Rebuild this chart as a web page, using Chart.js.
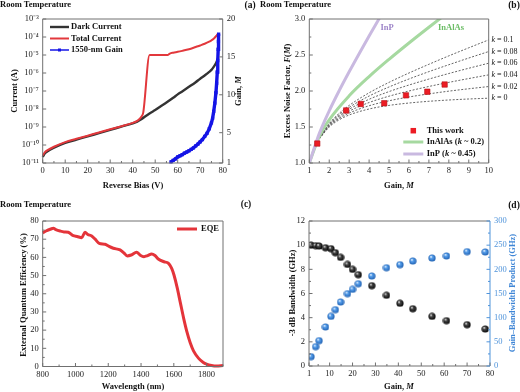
<!DOCTYPE html>
<html lang="en">
<head>
<meta charset="UTF-8">
<title>APD - Room Temperature</title>
<script src="https://cdn.jsdelivr.net/npm/chart.js"></script>
<style>
  body { margin: 0; background: #fff; width: 520px; height: 392px; overflow: hidden; }
  .painel { position: absolute; }
</style>
</head>
<body>
<canvas id="graficoA" class="painel" width="260" height="196" style="left:0;top:0"></canvas>
<canvas id="graficoB" class="painel" width="260" height="196" style="left:260px;top:0"></canvas>
<canvas id="graficoC" class="painel" width="260" height="196" style="left:0;top:196px"></canvas>
<canvas id="graficoD" class="painel" width="260" height="196" style="left:260px;top:196px"></canvas>

<script>
// (a) corrente x tensao
const tensaoEscuro = [0, 1, 2, 5, 10, 15, 20, 25, 30, 35, 40, 42, 44, 46, 48, 50, 52, 55, 58, 60, 62, 65, 68, 70, 72, 74, 75, 76, 77, 78];
const correnteEscuro = [2.2e-11, 3.5e-11, 4.3e-11, 7e-11, 1.3e-10, 2e-10, 3e-10, 4.6e-10, 7e-10, 1.05e-9, 1.6e-9, 2e-9, 2.8e-9, 4.2e-9, 6.2e-9, 8.7e-9, 1.3e-8, 2.3e-8, 4.2e-8, 6.5e-8, 9.5e-8, 1.7e-7, 3.1e-7, 4.8e-7, 7.3e-7, 1.15e-6, 1.5e-6, 2.2e-6, 3.5e-6, 7e-6];
const tensaoTotal = [0, 1, 2, 5, 10, 15, 20, 25, 30, 35, 40, 42, 43, 44, 44.7, 47.5, 50, 55.5, 56.5, 58, 60, 62, 65, 68, 70, 72, 74, 75, 76, 77, 78];
const correnteTotal = [2.6e-11, 4e-11, 5e-11, 8e-11, 1.45e-10, 2.2e-10, 3.3e-10, 5e-10, 7.5e-10, 1.1e-9, 1.7e-9, 2.2e-9, 2.8e-9, 4e-9, 6.5e-9, 1e-5, 1e-5, 1e-5, 1.2e-5, 1.35e-5, 1.5e-5, 1.7e-5, 2.1e-5, 2.8e-5, 3.4e-5, 4.2e-5, 5.5e-5, 6.5e-5, 8e-5, 1.1e-4, 1.6e-4];
const tensaoGanho = [57, 58, 59, 60, 61, 62, 63, 64, 65, 66, 67, 68, 69, 70, 71, 72, 73, 74, 75, 75.5, 76, 76.5, 77, 77.3, 77.6, 77.8, 78, 78.1, 78.2];
const ganho1550 = [1.15, 1.35, 1.55, 1.8, 1.95, 2.1, 2.3, 2.45, 2.6, 2.8, 3.0, 3.25, 3.5, 3.8, 4.1, 4.5, 4.9, 5.5, 6.3, 6.9, 7.8, 8.9, 10.3, 11.5, 13, 14.5, 16, 17, 18];
const ticksBias = [0, 10, 20, 30, 40, 50, 60, 70, 80];
const expoentesCorrente = [-11, -10, -9, -8, -7, -6, -5, -4, -3];
const ticksGanhoA = [1, 5, 10, 15, 20];

// (b) fator de ruido em excesso
const ganhoExp = [1.4, 2.85, 3.58, 4.76, 5.85, 6.92, 7.79];
const ruidoExp = [1.27, 1.73, 1.82, 1.83, 1.94, 1.99, 2.09];
const ganhoInAlAs = [1, 1.5, 2, 3, 4, 5, 6, 7, 8];
const ruidoInAlAs = [1.0, 1.367, 1.6, 1.933, 2.2, 2.44, 2.667, 2.886, 3.1];
const ganhoInP = [1, 1.5, 2, 2.5, 3, 3.5, 4, 4.5, 5];
const ruidoInP = [1.0, 1.408, 1.725, 2.005, 2.267, 2.518, 2.763, 3.003, 3.24];
const ganhoK = [1.5, 2, 2.5, 3, 4, 5, 6, 7, 8, 9, 10];
const ruidoK0 = [1.333, 1.5, 1.6, 1.667, 1.75, 1.8, 1.833, 1.857, 1.875, 1.889, 1.9];
const ruidoK002 = [1.337, 1.51, 1.618, 1.693, 1.795, 1.864, 1.917, 1.96, 1.998, 2.031, 2.062];
const ruidoK004 = [1.34, 1.52, 1.636, 1.72, 1.84, 1.928, 2.0, 2.063, 2.12, 2.173, 2.224];
const ruidoK006 = [1.343, 1.53, 1.654, 1.747, 1.885, 1.992, 2.083, 2.166, 2.243, 2.316, 2.386];
const ruidoK008 = [1.347, 1.54, 1.672, 1.773, 1.93, 2.056, 2.167, 2.269, 2.365, 2.458, 2.548];
const ruidoK01 = [1.35, 1.55, 1.69, 1.8, 1.975, 2.12, 2.25, 2.371, 2.488, 2.6, 2.71];
const rotulosK = ['0', '0.02', '0.04', '0.06', '0.08', '0.1'];
const ticksGanhoB = [1, 2, 3, 4, 5, 6, 7, 8, 9, 10];
const ticksRuido = [1.0, 1.5, 2.0, 2.5, 3.0];

// (c) eficiencia quantica externa
const compOnda = [800, 820, 850, 865, 880, 906, 930, 956, 987, 1010, 1038, 1058, 1075, 1099, 1120, 1145, 1180, 1205, 1231, 1272, 1295, 1316, 1340, 1373, 1395, 1418, 1440, 1465, 1485, 1505, 1540, 1566, 1587, 1601, 1620, 1640, 1660, 1680, 1700, 1720, 1750, 1780, 1800, 1830, 1860, 1900];
const eqe = [73.5, 74.5, 75.6, 76.0, 75.3, 74.5, 74.0, 73.8, 71.9, 71.5, 70.8, 73.8, 72.6, 71.8, 70.0, 67.7, 67.2, 66.0, 65.0, 64.1, 62.5, 60.8, 61.3, 62.8, 61.2, 60.4, 61.0, 61.9, 61.0, 59.1, 57.6, 56.8, 54.0, 50.3, 43.5, 35.0, 26.5, 19.0, 13.0, 8.6, 4.6, 2.2, 1.3, 0.6, 0.3, 0.5];
const ticksOnda = [800, 1000, 1200, 1400, 1600, 1800];
const ticksEqe = [0, 10, 20, 30, 40, 50, 60, 70, 80];

// (d) banda e produto ganho-banda
const ganhoD = [1.9, 3.9, 5.4, 8.2, 10.6, 12.5, 14.8, 17.8, 20.0, 22.5, 28.4, 34.8, 40.7, 46.3, 54.7, 61.0, 70.0, 77.9];
const banda = [10.0, 9.96, 9.93, 9.79, 9.71, 9.38, 8.99, 8.41, 8.0, 7.56, 6.65, 5.85, 5.19, 4.74, 4.11, 3.75, 3.42, 3.06];
const produtoGB = [19.3, 40, 52.4, 80.7, 102.8, 116.6, 132.4, 149.7, 158.6, 170.3, 186.2, 203.4, 209.7, 217.2, 223.4, 227.6, 236.6, 235.9];
const ticksGanhoD = [1, 10, 20, 30, 40, 50, 60, 70, 80];
const ticksBanda = [0, 2, 4, 6, 8, 10, 12];
const ticksGBP = [0, 50, 100, 150, 200, 250, 300];

const serif = "'Liberation Serif', 'Times New Roman', serif";
const azulEixo = '#4f93da';

function pares(xs, ys) { return xs.map((x, i) => ({ x: x, y: ys[i] })); }
function marcas(valores) { return s => { s.ticks = valores.map(v => ({ value: v })); }; }

const sobrescrito = { '-': '⁻', '0': '⁰', '1': '¹', '2': '²', '3': '³', '4': '⁴', '5': '⁵', '6': '⁶', '7': '⁷', '8': '⁸', '9': '⁹' };
function potencia(v) {
  const e = Math.round(Math.log10(v));
  return '10' + String(e).split('').map(c => sobrescrito[c]).join('');
}

function eixo(cfg, valores, tamanho, callback, cor) {
  const horizontal = cfg.position === 'bottom';
  return Object.assign({
    afterBuildTicks: marcas(valores),
    afterFit: s => { if (horizontal) s.height = tamanho; else s.width = tamanho; },
    grid: { display: false, drawTicks: false },
    border: { display: false },
    ticks: {
      font: { family: serif, size: 8.5 }, color: cor || '#222', padding: horizontal ? 3 : 4,
      autoSkip: false, maxRotation: 0, callback: callback || (v => v)
    }
  }, cfg);
}

// texto com partes em italico
function escreve(ctx, partes, x, y, t) {
  ctx.save();
  ctx.translate(x, y);
  if (t.rot) ctx.rotate(t.rot);
  const peso = t.normal ? '' : 'bold ';
  const fonte = it => (it ? 'italic ' : '') + peso + (t.tam || 8.5) + 'px ' + serif;
  let w = 0;
  partes.forEach(p => { ctx.font = fonte(p[1]); w += ctx.measureText(p[0]).width; });
  let cx = t.alinha === 'left' ? 0 : -w / 2;
  ctx.fillStyle = t.cor || '#111';
  ctx.textBaseline = 'middle';
  partes.forEach(p => { ctx.font = fonte(p[1]); ctx.fillText(p[0], cx, 0); cx += ctx.measureText(p[0]).width; });
  ctx.restore();
}

const moldura = {
  id: 'moldura',
  afterDraw(chart, args, o) {
    const { ctx, chartArea: a } = chart;
    const cor = '#707070';
    ctx.save();
    ctx.lineWidth = 1;
    const linha = (c, x1, y1, x2, y2) => { ctx.strokeStyle = c; ctx.beginPath(); ctx.moveTo(x1, y1); ctx.lineTo(x2, y2); ctx.stroke(); };
    linha(cor, a.left, a.top, a.right, a.top);
    linha(cor, a.left, a.bottom, a.right, a.bottom);
    linha(cor, a.left, a.top, a.left, a.bottom);
    linha(o.corDireita || cor, a.right, a.top, a.right, a.bottom);

    (o.eixos || []).forEach(e => {
      const s = chart.scales[e.id];
      const maiores = s.ticks.map(t => t.value);
      ctx.strokeStyle = e.cor || cor;
      const traco = (v, len) => {
        const p = s.getPixelForValue(v);
        ctx.beginPath();
        if (s.position === 'bottom') { ctx.moveTo(p, a.bottom); ctx.lineTo(p, a.bottom - len); }
        else if (s.position === 'left') { ctx.moveTo(a.left, p); ctx.lineTo(a.left + len, p); }
        else { ctx.moveTo(a.right, p); ctx.lineTo(a.right - len, p); }
        ctx.stroke();
      };
      maiores.forEach(v => traco(v, 3.5));
      if (e.menor) {
        for (let v = Math.ceil(s.min / e.menor) * e.menor; v <= s.max + 1e-6; v += e.menor) {
          if (!maiores.some(m => Math.abs(m - v) < 1e-6)) traco(v, 2);
        }
      }
    });

    (o.amostras || []).forEach(m => {
      if (m.largura) {
        ctx.strokeStyle = m.cor; ctx.lineWidth = m.largura;
        ctx.beginPath(); ctx.moveTo(m.x1, m.y); ctx.lineTo(m.x2, m.y); ctx.stroke();
      }
      if (m.quadrado) {
        const h = m.lado / 2, cx = (m.x1 + m.x2) / 2;
        ctx.fillStyle = m.quadrado;
        ctx.fillRect(cx - h, m.y - h, m.lado, m.lado);
      }
    });

    (o.textos || []).forEach(t => {
      const y = t.yv !== undefined ? chart.scales[t.eixo || 'y'].getPixelForValue(t.yv) : t.y;
      escreve(ctx, t.partes, t.x, y, t);
    });
    ctx.restore();
  }
};
Chart.register(moldura);

const base = { responsive: false, animation: false, events: [] };
const semLegenda = { legend: { display: false }, tooltip: { enabled: false } };

// Painel (a)
new Chart(document.getElementById('graficoA'), {
  type: 'scatter',
  data: {
    datasets: [{
      label: '1550-nm Gain', data: pares(tensaoGanho, ganho1550), yAxisID: 'y2', showLine: true,
      borderColor: '#1414e6', borderWidth: 3.4, pointStyle: 'rect', pointRadius: 2.3,
      pointBackgroundColor: '#1414e6', pointBorderWidth: 0, clip: 2
    }, {
      label: 'Total Current', data: pares(tensaoTotal, correnteTotal), yAxisID: 'y', showLine: true,
      borderColor: '#e2383c', borderWidth: 2, pointRadius: 0, cubicInterpolationMode: 'monotone', clip: 2
    }, {
      label: 'Dark Current', data: pares(tensaoEscuro, correnteEscuro), yAxisID: 'y', showLine: true,
      borderColor: '#333333', borderWidth: 2.4, pointRadius: 0, cubicInterpolationMode: 'monotone', clip: 2
    }]
  },
  options: Object.assign({}, base, {
    layout: { padding: { top: 19 } },
    scales: {
      x: eixo({ type: 'linear', position: 'bottom', min: 0, max: 80 }, ticksBias, 33),
      y: eixo({ type: 'logarithmic', position: 'left', min: 1e-11, max: 1e-3 }, expoentesCorrente.map(e => Math.pow(10, e)), 42.7, potencia),
      y2: eixo({ type: 'linear', position: 'right', min: 1, max: 20 }, ticksGanhoA, 37.3)
    },
    plugins: Object.assign({}, semLegenda, {
      moldura: {
        eixos: [{ id: 'x', menor: 5 }, { id: 'y' }, { id: 'y2' }],
        amostras: [
          { x1: 50, x2: 69, y: 27, cor: '#333333', largura: 2.4 },
          { x1: 50, x2: 69, y: 38.5, cor: '#e2383c', largura: 2 },
          { x1: 50, x2: 69, y: 50, cor: '#1414e6', largura: 1.5, quadrado: '#1414e6', lado: 3 }
        ],
        textos: [
          { partes: [['Room Temperature']], x: 0, y: 5, alinha: 'left', tam: 8.5 },
          { partes: [['(a)']], x: 250, y: 6, tam: 9.5 },
          { partes: [['Current (A)']], x: 15, y: 91, rot: -Math.PI / 2 },
          { partes: [['Gain, '], ['M', true]], x: 239, y: 91, rot: -Math.PI / 2 },
          { partes: [['Reverse Bias (V)']], x: 133, y: 186 },
          { partes: [['Dark Current']], x: 71, y: 27, alinha: 'left' },
          { partes: [['Total Current']], x: 71, y: 38.5, alinha: 'left' },
          { partes: [['1550-nm Gain']], x: 71, y: 50, alinha: 'left' }
        ]
      }
    })
  })
});

// Painel (b)
const tracoK = { showLine: true, borderColor: '#555', borderWidth: 0.9, borderDash: [2, 1.6], pointRadius: 0, cubicInterpolationMode: 'monotone', clip: 0 };
new Chart(document.getElementById('graficoB'), {
  type: 'scatter',
  data: {
    datasets: [
      { label: 'This work', data: pares(ganhoExp, ruidoExp), pointStyle: 'rect', pointRadius: 3.8, pointBackgroundColor: '#ec1c24', pointBorderColor: '#b51218', pointBorderWidth: 0.6 },
      Object.assign({ label: 'InP (k ~ 0.45)', data: pares(ganhoInP, ruidoInP) }, { showLine: true, borderColor: '#c9b9e0', borderWidth: 3, pointRadius: 0, cubicInterpolationMode: 'monotone', clip: 0 }),
      Object.assign({ label: 'InAlAs (k ~ 0.2)', data: pares(ganhoInAlAs, ruidoInAlAs) }, { showLine: true, borderColor: '#a6d9a0', borderWidth: 3, pointRadius: 0, cubicInterpolationMode: 'monotone', clip: 0 }),
      Object.assign({ label: 'k = 0', data: pares(ganhoK, ruidoK0) }, tracoK),
      Object.assign({ label: 'k = 0.02', data: pares(ganhoK, ruidoK002) }, tracoK),
      Object.assign({ label: 'k = 0.04', data: pares(ganhoK, ruidoK004) }, tracoK),
      Object.assign({ label: 'k = 0.06', data: pares(ganhoK, ruidoK006) }, tracoK),
      Object.assign({ label: 'k = 0.08', data: pares(ganhoK, ruidoK008) }, tracoK),
      Object.assign({ label: 'k = 0.1', data: pares(ganhoK, ruidoK01) }, tracoK)
    ]
  },
  options: Object.assign({}, base, {
    layout: { padding: { top: 19, right: 31.3 } },
    scales: {
      x: eixo({ type: 'linear', position: 'bottom', min: 1, max: 10 }, ticksGanhoB, 33),
      y: eixo({ type: 'linear', position: 'left', min: 1, max: 3 }, ticksRuido, 49.3, v => v.toFixed(1))
    },
    plugins: Object.assign({}, semLegenda, {
      moldura: {
        eixos: [{ id: 'x', menor: 0.5 }, { id: 'y', menor: 0.25 }],
        amostras: [
          { x1: 143.3, x2: 163.3, y: 130.7, quadrado: '#ec1c24', lado: 5.5 },
          { x1: 143.3, x2: 163.3, y: 142, cor: '#a6d9a0', largura: 3 },
          { x1: 143.3, x2: 163.3, y: 154, cor: '#c9b9e0', largura: 3 }
        ],
        textos: [
          { partes: [['Room Temperature']], x: 0, y: 5, alinha: 'left', tam: 8.5 },
          { partes: [['(b)']], x: 254, y: 6, tam: 9.5 },
          { partes: [['Excess Noise Factor, '], ['F', true], ['('], ['M', true], [')']], x: 28, y: 91, rot: -Math.PI / 2 },
          { partes: [['Gain, '], ['M', true]], x: 139, y: 186 },
          { partes: [['InP']], x: 127, y: 28, cor: '#9d84c8' },
          { partes: [['InAlAs']], x: 191, y: 28, cor: '#6cbd66' },
          { partes: [['This work']], x: 166.7, y: 131, alinha: 'left' },
          { partes: [['InAlAs ('], ['k', true], [' ~ 0.2)']], x: 166.7, y: 142, alinha: 'left' },
          { partes: [['InP ('], ['k', true], [' ~ 0.45)']], x: 166.7, y: 154, alinha: 'left' }
        ].concat([ruidoK0, ruidoK002, ruidoK004, ruidoK006, ruidoK008, ruidoK01].map((serie, i) => ({
          partes: [['k', true], [' = ' + rotulosK[i]]], x: 231.5, yv: serie[serie.length - 1], alinha: 'left', normal: true, tam: 8
        })))
      }
    })
  })
});

// Painel (c)
new Chart(document.getElementById('graficoC'), {
  type: 'scatter',
  data: {
    datasets: [{
      label: 'EQE', data: pares(compOnda, eqe), showLine: true, borderColor: '#e4343a', borderWidth: 3,
      pointRadius: 0, cubicInterpolationMode: 'monotone', clip: 2
    }]
  },
  options: Object.assign({}, base, {
    layout: { padding: { top: 25, right: 37 } },
    scales: {
      x: eixo({ type: 'linear', position: 'bottom', min: 800, max: 1900 }, ticksOnda, 25.5),
      y: eixo({ type: 'linear', position: 'left', min: 0, max: 80 }, ticksEqe, 42.7)
    },
    plugins: Object.assign({}, semLegenda, {
      moldura: {
        eixos: [{ id: 'x', menor: 100 }, { id: 'y', menor: 5 }],
        amostras: [{ x1: 177, x2: 197, y: 33, cor: '#e4343a', largura: 3 }],
        textos: [
          { partes: [['Room Temperature']], x: 0, y: 9, alinha: 'left', tam: 8.5 },
          { partes: [['(c)']], x: 246, y: 9, tam: 9.5 },
          { partes: [['External Quantum Efficiency (%)']], x: 24, y: 99, rot: -Math.PI / 2 },
          { partes: [['Wavelength (nm)']], x: 133, y: 191 },
          { partes: [['EQE']], x: 201, y: 33, alinha: 'left' }
        ]
      }
    })
  })
});

// Painel (d)
function esfera(escura, media) {
  const c = document.createElement('canvas');
  c.width = c.height = 8;
  const g = c.getContext('2d');
  const gr = g.createRadialGradient(2.9, 2.7, 0.2, 4, 4, 3.8);
  gr.addColorStop(0, '#ffffff');
  gr.addColorStop(0.3, media);
  gr.addColorStop(1, escura);
  g.fillStyle = gr;
  g.beginPath(); g.arc(4, 4, 3.6, 0, Math.PI * 2); g.fill();
  return c;
}
new Chart(document.getElementById('graficoD'), {
  type: 'scatter',
  data: {
    datasets: [
      { label: '-3 dB Bandwidth', data: pares(ganhoD, banda), yAxisID: 'y', pointStyle: esfera('#000000', '#4a4a4a') },
      { label: 'Gain-Bandwidth Product', data: pares(ganhoD, produtoGB), yAxisID: 'y2', pointStyle: esfera('#1a5cae', '#5aa2ee') }
    ]
  },
  options: Object.assign({}, base, {
    layout: { padding: { top: 25 } },
    scales: {
      x: eixo({ type: 'linear', position: 'bottom', min: 1, max: 80 }, ticksGanhoD, 26),
      y: eixo({ type: 'linear', position: 'left', min: 0, max: 12 }, ticksBanda, 49),
      y2: eixo({ type: 'linear', position: 'right', min: 0, max: 300 }, ticksGBP, 30, null, azulEixo)
    },
    plugins: Object.assign({}, semLegenda, {
      moldura: {
        corDireita: azulEixo,
        eixos: [{ id: 'x', menor: 5 }, { id: 'y', menor: 1 }, { id: 'y2', menor: 25, cor: azulEixo }],
        textos: [
          { partes: [['(d)']], x: 254, y: 10, tam: 9.5 },
          { partes: [['-3 dB Bandwidth (GHz)']], x: 33, y: 97, rot: -Math.PI / 2 },
          { partes: [['Gain–Bandwidth Product (GHz)']], x: 253, y: 97, rot: -Math.PI / 2, cor: '#3f86d6' },
          { partes: [['Gain, '], ['M', true]], x: 139, y: 191 }
        ]
      }
    })
  })
});
</script>
</body>
</html>
